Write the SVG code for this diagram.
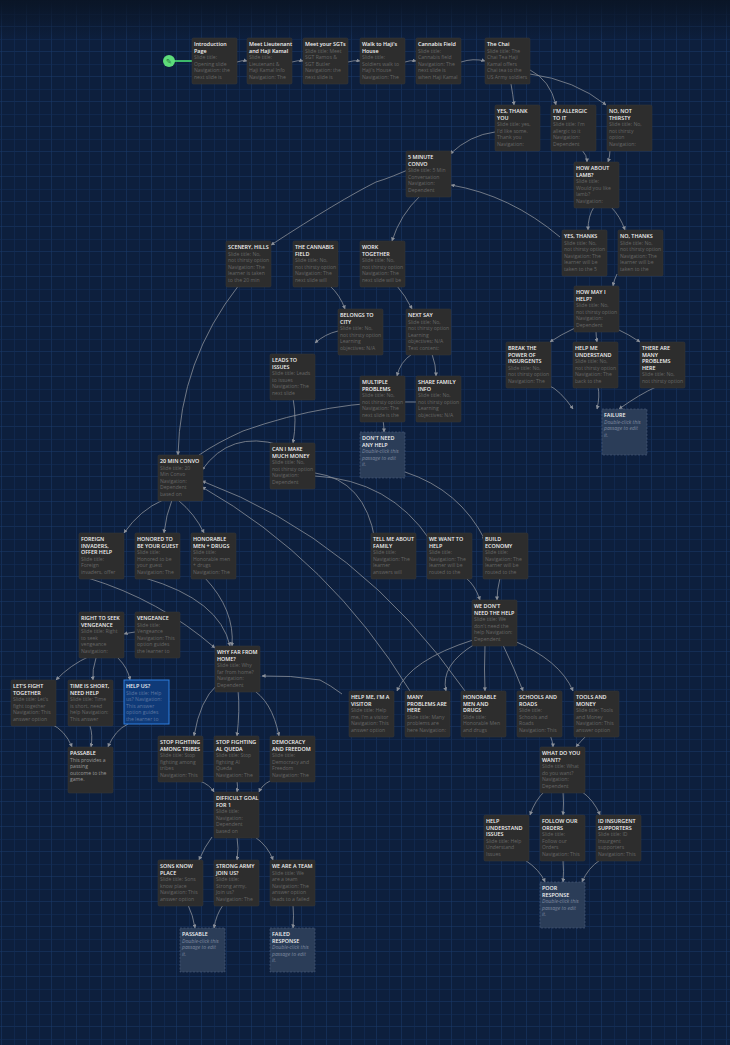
<svg xmlns="http://www.w3.org/2000/svg" width="730" height="1045" viewBox="0 0 730 1045">
<defs>
<pattern id="g" width="25" height="25" patternUnits="userSpaceOnUse" x="2" y="2">
<path d="M25 0V25H0" fill="none" stroke="#19396a" stroke-width="1"/>
<path d="M12.5 0V25M0 12.5H25" fill="none" stroke="#122c55" stroke-width="0.6"/>
</pattern>
<linearGradient id="top" x1="0" y1="0" x2="0" y2="1"><stop offset="0" stop-color="#0a1526"/><stop offset="1" stop-color="#0a1526" stop-opacity="0"/></linearGradient>
<marker id="a" viewBox="0 0 10 10" refX="9" refY="5" markerWidth="5" markerHeight="5" orient="auto"><path d="M0 0L10 5L0 10z" fill="#8a8f98"/></marker>
</defs>
<style>
.c{fill:#2d2d2d;stroke:#3a3a3a;stroke-width:0.5}
.b{fill:#2b3d58;stroke:#4a5f80;stroke-width:0.6;stroke-dasharray:2 1.5}
.s{fill:#0f3a78;stroke:#2f7fe0;stroke-width:1}
.t{font-family:"Open Sans","DejaVu Sans",sans-serif;font-size:5.4px;fill:#f2f2f2;font-weight:600}
.d{font-family:"Open Sans","DejaVu Sans",sans-serif;font-size:5.1px;fill:#666}
.i{font-family:"Open Sans","DejaVu Sans",sans-serif;font-size:5.1px;fill:#7f8aa0;font-style:italic}
#edges path{fill:none;stroke:#8a8f98;stroke-width:0.8;marker-end:url(#a)}
</style>
<rect width="730" height="1045" fill="#0d1f3d"/>
<rect width="730" height="1045" fill="url(#g)"/>
<rect width="730" height="40" fill="url(#top)"/>

<g id="edges">
<path d="M174 61H192" style="stroke:#3cb86a;stroke-width:2;marker-end:none"/>
<path d="M237 62Q242 60 247 61"/>
<path d="M292 62Q298 60 303 61"/>
<path d="M348 62Q354 60 360 61"/>
<path d="M405 62Q410 60 416 61"/>
<path d="M461 62Q473 58 485 61"/>
<path d="M511 84Q513 95 514 105"/>
<path d="M530 70Q550 80 556 105"/>
<path d="M530 74Q575 80 606 105"/>
<path d="M495 132Q470 135 450 154"/>
<path d="M582 150Q587 155 587 162"/>
<path d="M610 150Q610 156 608 162"/>
<path d="M594 207Q588 216 588 230"/>
<path d="M611 207Q620 216 625 230"/>
<path d="M560 237Q510 195 451 185"/>
<path d="M617 274Q614 280 613 286"/>
<path d="M419 165Q390 178 376 182Q340 200 271 245"/>
<path d="M420 196Q400 215 392 241"/>
<path d="M239 285Q180 360 178 455"/>
<path d="M330 286Q340 295 345 309"/>
<path d="M397 286Q405 295 412 309"/>
<path d="M338 331Q325 334 315 343"/>
<path d="M412 354Q400 362 397 376"/>
<path d="M432 354Q436 365 436 376"/>
<path d="M575 328Q560 335 550 342"/>
<path d="M596 331Q596 336 597 342"/>
<path d="M615 328Q630 335 640 342"/>
<path d="M548 385Q560 390 573 409"/>
<path d="M598 387Q600 396 597 409"/>
<path d="M656 387Q640 394 619 409"/>
<path d="M293 398Q297 420 293 443"/>
<path d="M383 420Q384 426 384 432"/>
<path d="M416 402Q330 400 243 431Q190 455 178 476"/>
<path d="M280 445Q230 430 202 470"/>
<path d="M163 500Q140 510 124 533"/>
<path d="M172 500Q166 515 164 533"/>
<path d="M178 500Q195 514 204 533"/>
<path d="M315 473Q365 480 375 540"/>
<path d="M315 476Q390 480 430 540"/>
<path d="M405 472Q460 490 485 540"/>
<path d="M466 578Q475 585 480 600"/>
<path d="M500 578Q497 590 497 600"/>
<path d="M473 640Q410 660 397 691"/>
<path d="M485 645Q484 670 485 691"/>
<path d="M503 645Q515 670 523 691"/>
<path d="M512 640Q560 660 573 691"/>
<path d="M475 644Q440 665 446 691"/>
<path d="M410 691Q330 560 202 487"/>
<path d="M465 691Q360 540 202 481"/>
<path d="M342 694Q330 685 320 680Q290 675 262 676"/>
<path d="M88 578Q160 600 215 648"/>
<path d="M145 578Q220 600 230 646"/>
<path d="M205 578Q235 610 232 646"/>
<path d="M135 632Q128 633 124 634"/>
<path d="M90 656Q70 665 56 680"/>
<path d="M96 658Q92 670 93 680"/>
<path d="M118 658Q128 668 130 680"/>
<path d="M51 724Q65 730 72 747"/>
<path d="M90 726Q93 735 91 747"/>
<path d="M128 724Q115 730 108 747"/>
<path d="M217 685Q200 700 194 736"/>
<path d="M238 690Q240 710 237 736"/>
<path d="M250 688Q272 700 279 736"/>
<path d="M200 781Q210 785 214 792"/>
<path d="M237 781Q238 786 237 792"/>
<path d="M270 781Q262 785 259 792"/>
<path d="M212 837Q205 846 199 860"/>
<path d="M237 837Q239 848 237 860"/>
<path d="M255 837Q268 846 273 860"/>
<path d="M188 905Q193 915 195 928"/>
<path d="M223 905Q216 915 214 928"/>
<path d="M293 905Q294 915 293 928"/>
<path d="M550 735Q553 742 553 747"/>
<path d="M587 735Q580 742 576 747"/>
<path d="M545 791Q535 800 530 815"/>
<path d="M563 791Q564 803 563 815"/>
<path d="M581 791Q594 800 600 815"/>
<path d="M525 860Q540 870 545 882"/>
<path d="M563 860Q564 872 563 882"/>
<path d="M600 860Q588 868 582 882"/>
</g>

<circle cx="169" cy="61" r="6" fill="#5ddc7a"/>
<text x="166" y="64" style="font-family:'DejaVu Sans',sans-serif;font-size:7px;fill:#1e6b34">✎</text>

<g id="n1"><rect class="c" x="192" y="38" width="45" height="46" rx="1.5"/><text class="t" x="194" y="46">Introduction</text><text class="t" x="194" y="52.5">Page</text><text class="d" x="194" y="59">Slide title:</text><text class="d" x="194" y="65.5">Opening slide</text><text class="d" x="194" y="72">Navigation: the</text><text class="d" x="194" y="78.5">next slide is</text></g>
<g id="n2"><rect class="c" x="247" y="38" width="45" height="46" rx="1.5"/><text class="t" x="249" y="46">Meet Lieutenant</text><text class="t" x="249" y="52.5">and Haji Kamal</text><text class="d" x="249" y="59">Slide title:</text><text class="d" x="249" y="65.5">Lieutenant &amp;</text><text class="d" x="249" y="72">Haji Kamal Info</text><text class="d" x="249" y="78.5">Navigation: The</text></g>
<g id="n3"><rect class="c" x="303" y="38" width="45" height="46" rx="1.5"/><text class="t" x="305" y="46">Meet your SGTs</text><text class="d" x="305" y="52.5">Slide title: Meet</text><text class="d" x="305" y="59">SGT Ramos &amp;</text><text class="d" x="305" y="65.5">SGT Butler</text><text class="d" x="305" y="72">Navigation: the</text><text class="d" x="305" y="78.5">next slide is</text></g>
<g id="n4"><rect class="c" x="360" y="38" width="45" height="46" rx="1.5"/><text class="t" x="362" y="46">Walk to Haji's</text><text class="t" x="362" y="52.5">House</text><text class="d" x="362" y="59">Slide title:</text><text class="d" x="362" y="65.5">Soldiers walk to</text><text class="d" x="362" y="72">Haji's House</text><text class="d" x="362" y="78.5">Navigation: The</text></g>
<g id="n5"><rect class="c" x="416" y="38" width="45" height="46" rx="1.5"/><text class="t" x="418" y="46">Cannabis Field</text><text class="d" x="418" y="52.5">Slide title:</text><text class="d" x="418" y="59">Cannabis field</text><text class="d" x="418" y="65.5">Navigation: The</text><text class="d" x="418" y="72">next slide is</text><text class="d" x="418" y="78.5">when Haji Kamal</text></g>
<g id="n6"><rect class="c" x="485" y="38" width="45" height="46" rx="1.5"/><text class="t" x="487" y="46">The Chai</text><text class="d" x="487" y="52.5">Slide title: The</text><text class="d" x="487" y="59">Chai Tea Haji</text><text class="d" x="487" y="65.5">Kamal offers</text><text class="d" x="487" y="72">Chai tea to the</text><text class="d" x="487" y="78.5">US Army soldiers</text></g>

<g id="n7"><rect class="c" x="495" y="105" width="45" height="46" rx="1.5"/><text class="t" x="497" y="113">YES, THANK</text><text class="t" x="497" y="119.5">YOU</text><text class="d" x="497" y="126">Slide title: yes,</text><text class="d" x="497" y="132.5">I'd like some.</text><text class="d" x="497" y="139">Thank you</text><text class="d" x="497" y="145.5">Navigation:</text></g>
<g id="n8"><rect class="c" x="551" y="105" width="45" height="46" rx="1.5"/><text class="t" x="553" y="113">I'M ALLERGIC</text><text class="t" x="553" y="119.5">TO IT</text><text class="d" x="553" y="126">Slide title: I'm</text><text class="d" x="553" y="132.5">allergic to it</text><text class="d" x="553" y="139">Navigation:</text><text class="d" x="553" y="145.5">Dependent</text></g>
<g id="n9"><rect class="c" x="607" y="105" width="45" height="46" rx="1.5"/><text class="t" x="609" y="113">NO, NOT</text><text class="t" x="609" y="119.5">THIRSTY</text><text class="d" x="609" y="126">Slide title: No,</text><text class="d" x="609" y="132.5">not thirsty</text><text class="d" x="609" y="139">option</text><text class="d" x="609" y="145.5">Navigation:</text></g>
<g id="n10"><rect class="c" x="406" y="151" width="45" height="46" rx="1.5"/><text class="t" x="408" y="159">5 MINUTE</text><text class="t" x="408" y="165.5">CONVO</text><text class="d" x="408" y="172">Slide title: 5 Min</text><text class="d" x="408" y="178.5">Conversation</text><text class="d" x="408" y="185">Navigation:</text><text class="d" x="408" y="191.5">Dependent</text></g>
<g id="n11"><rect class="c" x="574" y="162" width="45" height="46" rx="1.5"/><text class="t" x="576" y="170">HOW ABOUT</text><text class="t" x="576" y="176.5">LAMB?</text><text class="d" x="576" y="183">Slide title:</text><text class="d" x="576" y="189.5">Would you like</text><text class="d" x="576" y="196">lamb?</text><text class="d" x="576" y="202.5">Navigation:</text></g>

<g id="n12"><rect class="c" x="226" y="241" width="45" height="46" rx="1.5"/><text class="t" x="228" y="249">SCENERY, HILLS</text><text class="d" x="228" y="255.5">Slide title: No,</text><text class="d" x="228" y="262">not thirsty option</text><text class="d" x="228" y="268.5">Navigation: The</text><text class="d" x="228" y="275">learner is taken</text><text class="d" x="228" y="281.5">to the 20 min</text></g>
<g id="n13"><rect class="c" x="293" y="241" width="45" height="46" rx="1.5"/><text class="t" x="295" y="249">THE CANNABIS</text><text class="t" x="295" y="255.5">FIELD</text><text class="d" x="295" y="262">Slide title: No,</text><text class="d" x="295" y="268.5">not thirsty option</text><text class="d" x="295" y="275">Navigation: The</text><text class="d" x="295" y="281.5">next slide will</text></g>
<g id="n14"><rect class="c" x="360" y="241" width="45" height="46" rx="1.5"/><text class="t" x="362" y="249">WORK</text><text class="t" x="362" y="255.5">TOGETHER</text><text class="d" x="362" y="262">Slide title: No,</text><text class="d" x="362" y="268.5">not thirsty option</text><text class="d" x="362" y="275">Navigation: The</text><text class="d" x="362" y="281.5">next slide will be</text></g>
<g id="n15"><rect class="c" x="562" y="230" width="45" height="46" rx="1.5"/><text class="t" x="564" y="238">YES, THANKS</text><text class="d" x="564" y="244.5">Slide title: No,</text><text class="d" x="564" y="251">not thirsty option</text><text class="d" x="564" y="257.5">Navigation: The</text><text class="d" x="564" y="264">learner will be</text><text class="d" x="564" y="270.5">taken to the 5</text></g>
<g id="n16"><rect class="c" x="618" y="230" width="45" height="46" rx="1.5"/><text class="t" x="620" y="238">NO, THANKS</text><text class="d" x="620" y="244.5">Slide title: No,</text><text class="d" x="620" y="251">not thirsty option</text><text class="d" x="620" y="257.5">Navigation: The</text><text class="d" x="620" y="264">learner will be</text><text class="d" x="620" y="270.5">taken to the</text></g>
<g id="n17"><rect class="c" x="574" y="286" width="45" height="46" rx="1.5"/><text class="t" x="576" y="294">HOW MAY I</text><text class="t" x="576" y="300.5">HELP?</text><text class="d" x="576" y="307">Slide title: No,</text><text class="d" x="576" y="313.5">not thirsty option</text><text class="d" x="576" y="320">Navigation:</text><text class="d" x="576" y="326.5">Dependent</text></g>

<g id="n18"><rect class="c" x="338" y="309" width="45" height="46" rx="1.5"/><text class="t" x="340" y="317">BELONGS TO</text><text class="t" x="340" y="323.5">CITY</text><text class="d" x="340" y="330">Slide title: No,</text><text class="d" x="340" y="336.5">not thirsty option</text><text class="d" x="340" y="343">Learning</text><text class="d" x="340" y="349.5">objectives: N/A</text></g>
<g id="n19"><rect class="c" x="406" y="309" width="45" height="46" rx="1.5"/><text class="t" x="408" y="317">NEXT SAY</text><text class="d" x="408" y="323.5">Slide title: No,</text><text class="d" x="408" y="330">not thirsty option</text><text class="d" x="408" y="336.5">Learning</text><text class="d" x="408" y="343">objectives: N/A</text><text class="d" x="408" y="349.5">Text content:</text></g>
<g id="n20"><rect class="c" x="506" y="342" width="45" height="46" rx="1.5"/><text class="t" x="508" y="350">BREAK THE</text><text class="t" x="508" y="356.5">POWER OF</text><text class="t" x="508" y="363">INSURGENTS</text><text class="d" x="508" y="369.5">Slide title: No,</text><text class="d" x="508" y="376">not thirsty option</text><text class="d" x="508" y="382.5">Navigation: The</text></g>
<g id="n21"><rect class="c" x="573" y="342" width="45" height="46" rx="1.5"/><text class="t" x="575" y="350">HELP ME</text><text class="t" x="575" y="356.5">UNDERSTAND</text><text class="d" x="575" y="363">Slide title: No,</text><text class="d" x="575" y="369.5">not thirsty option</text><text class="d" x="575" y="376">Navigation: The</text><text class="d" x="575" y="382.5">back to the</text></g>
<g id="n22"><rect class="c" x="640" y="342" width="45" height="46" rx="1.5"/><text class="t" x="642" y="350">THERE ARE</text><text class="t" x="642" y="356.5">MANY</text><text class="t" x="642" y="363">PROBLEMS</text><text class="t" x="642" y="369.5">HERE</text><text class="d" x="642" y="376">Slide title: No,</text><text class="d" x="642" y="382.5">not thirsty option</text></g>
<g id="n23"><rect class="c" x="270" y="354" width="45" height="46" rx="1.5"/><text class="t" x="272" y="362">LEADS TO</text><text class="t" x="272" y="368.5">ISSUES</text><text class="d" x="272" y="375">Slide title: Leads</text><text class="d" x="272" y="381.5">to issues</text><text class="d" x="272" y="388">Navigation: The</text><text class="d" x="272" y="394.5">next slide</text></g>
<g id="n24"><rect class="c" x="360" y="376" width="45" height="46" rx="1.5"/><text class="t" x="362" y="384">MULTIPLE</text><text class="t" x="362" y="390.5">PROBLEMS</text><text class="d" x="362" y="397">Slide title: No,</text><text class="d" x="362" y="403.5">not thirsty option</text><text class="d" x="362" y="410">Navigation: The</text><text class="d" x="362" y="416.5">next slide is the</text></g>
<g id="n25"><rect class="c" x="416" y="376" width="45" height="46" rx="1.5"/><text class="t" x="418" y="384">SHARE FAMILY</text><text class="t" x="418" y="390.5">INFO</text><text class="d" x="418" y="397">Slide title: No,</text><text class="d" x="418" y="403.5">not thirsty option</text><text class="d" x="418" y="410">Learning</text><text class="d" x="418" y="416.5">objectives: N/A</text></g>
<g id="n26"><rect class="b" x="602" y="409" width="45" height="46"/><text class="t" x="604" y="417">FAILURE</text><text class="i" x="604" y="423.5">Double-click this</text><text class="i" x="604" y="430">passage to edit</text><text class="i" x="604" y="436.5">it.</text></g>
<g id="n27"><rect class="b" x="360" y="432" width="45" height="46"/><text class="t" x="362" y="440">DON'T NEED</text><text class="t" x="362" y="446.5">ANY HELP</text><text class="i" x="362" y="453">Double-click this</text><text class="i" x="362" y="459.5">passage to edit</text><text class="i" x="362" y="466">it.</text></g>
<g id="n28"><rect class="c" x="270" y="443" width="45" height="46" rx="1.5"/><text class="t" x="272" y="451">CAN I MAKE</text><text class="t" x="272" y="457.5">MUCH MONEY</text><text class="d" x="272" y="464">Slide title: No,</text><text class="d" x="272" y="470.5">not thirsty option</text><text class="d" x="272" y="477">Navigation:</text><text class="d" x="272" y="483.5">Dependent</text></g>
<g id="n29"><rect class="c" x="158" y="455" width="45" height="46" rx="1.5"/><text class="t" x="160" y="463">20 MIN CONVO</text><text class="d" x="160" y="469.5">Slide title: 20</text><text class="d" x="160" y="476">Min Convo</text><text class="d" x="160" y="482.5">Navigation:</text><text class="d" x="160" y="489">Dependent</text><text class="d" x="160" y="495.5">based on</text></g>

<g id="n30"><rect class="c" x="79" y="533" width="45" height="46" rx="1.5"/><text class="t" x="81" y="541">FOREIGN</text><text class="t" x="81" y="547.5">INVADERS,</text><text class="t" x="81" y="554">OFFER HELP</text><text class="d" x="81" y="560.5">Slide title:</text><text class="d" x="81" y="567">Foreign</text><text class="d" x="81" y="573.5">invaders, offer</text></g>
<g id="n31"><rect class="c" x="135" y="533" width="45" height="46" rx="1.5"/><text class="t" x="137" y="541">HONORED TO</text><text class="t" x="137" y="547.5">BE YOUR GUEST</text><text class="d" x="137" y="554">Slide title:</text><text class="d" x="137" y="560.5">Honored to be</text><text class="d" x="137" y="567">your guest</text><text class="d" x="137" y="573.5">Navigation: The</text></g>
<g id="n32"><rect class="c" x="191" y="533" width="45" height="46" rx="1.5"/><text class="t" x="193" y="541">HONORABLE</text><text class="t" x="193" y="547.5">MEN + DRUGS</text><text class="d" x="193" y="554">Slide title:</text><text class="d" x="193" y="560.5">Honorable men</text><text class="d" x="193" y="567">+ drugs</text><text class="d" x="193" y="573.5">Navigation: The</text></g>
<g id="n33"><rect class="c" x="371" y="533" width="45" height="46" rx="1.5"/><text class="t" x="373" y="541">TELL ME ABOUT</text><text class="t" x="373" y="547.5">FAMILY</text><text class="d" x="373" y="554">Slide title:</text><text class="d" x="373" y="560.5">Navigation: The</text><text class="d" x="373" y="567">learner</text><text class="d" x="373" y="573.5">answers will</text></g>
<g id="n34"><rect class="c" x="427" y="533" width="45" height="46" rx="1.5"/><text class="t" x="429" y="541">WE WANT TO</text><text class="t" x="429" y="547.5">HELP</text><text class="d" x="429" y="554">Slide title:</text><text class="d" x="429" y="560.5">Navigation: The</text><text class="d" x="429" y="567">learner will be</text><text class="d" x="429" y="573.5">routed to the</text></g>
<g id="n35"><rect class="c" x="483" y="533" width="45" height="46" rx="1.5"/><text class="t" x="485" y="541">BUILD</text><text class="t" x="485" y="547.5">ECONOMY</text><text class="d" x="485" y="554">Slide title:</text><text class="d" x="485" y="560.5">Navigation: The</text><text class="d" x="485" y="567">learner will be</text><text class="d" x="485" y="573.5">routed to the</text></g>
<g id="n36"><rect class="c" x="472" y="600" width="45" height="46" rx="1.5"/><text class="t" x="474" y="608">WE DON'T</text><text class="t" x="474" y="614.5">NEED THE HELP</text><text class="d" x="474" y="621">Slide title: We</text><text class="d" x="474" y="627.5">don't need the</text><text class="d" x="474" y="634">help Navigation:</text><text class="d" x="474" y="640.5">Dependent</text></g>
<g id="n37"><rect class="c" x="79" y="612" width="45" height="46" rx="1.5"/><text class="t" x="81" y="620">RIGHT TO SEEK</text><text class="t" x="81" y="626.5">VENGEANCE</text><text class="d" x="81" y="633">Slide title: Right</text><text class="d" x="81" y="639.5">to seek</text><text class="d" x="81" y="646">vengeance</text><text class="d" x="81" y="652.5">Navigation:</text></g>
<g id="n38"><rect class="c" x="135" y="612" width="45" height="46" rx="1.5"/><text class="t" x="137" y="620">VENGEANCE</text><text class="d" x="137" y="626.5">Slide title:</text><text class="d" x="137" y="633">Vengeance</text><text class="d" x="137" y="639.5">Navigation: This</text><text class="d" x="137" y="646">option guides</text><text class="d" x="137" y="652.5">the learner to</text></g>
<g id="n39"><rect class="c" x="215" y="646" width="45" height="46" rx="1.5"/><text class="t" x="217" y="654">WHY FAR FROM</text><text class="t" x="217" y="660.5">HOME?</text><text class="d" x="217" y="667">Slide title: Why</text><text class="d" x="217" y="673.5">far from home?</text><text class="d" x="217" y="680">Navigation:</text><text class="d" x="217" y="686.5">Dependent</text></g>

<g id="n40"><rect class="c" x="11" y="680" width="45" height="46" rx="1.5"/><text class="t" x="13" y="688">LET'S FIGHT</text><text class="t" x="13" y="694.5">TOGETHER</text><text class="d" x="13" y="701">Slide title: Let's</text><text class="d" x="13" y="707.5">fight together</text><text class="d" x="13" y="714">Navigation: This</text><text class="d" x="13" y="720.5">answer option</text></g>
<g id="n41"><rect class="c" x="68" y="680" width="45" height="46" rx="1.5"/><text class="t" x="70" y="688">TIME IS SHORT,</text><text class="t" x="70" y="694.5">NEED HELP</text><text class="d" x="70" y="701">Slide title: Time</text><text class="d" x="70" y="707.5">is short, need</text><text class="d" x="70" y="714">help Navigation:</text><text class="d" x="70" y="720.5">This answer</text></g>
<g id="n42"><rect class="s" x="124" y="680" width="45" height="44"/><text class="t" x="126" y="688">HELP US?</text><text class="d" x="126" y="694.5" style="fill:#5d76a0">Slide title: Help</text><text class="d" x="126" y="701" style="fill:#5d76a0">us? Navigation:</text><text class="d" x="126" y="707.5" style="fill:#5d76a0">This answer</text><text class="d" x="126" y="714" style="fill:#5d76a0">option guides</text><text class="d" x="126" y="720.5" style="fill:#5d76a0">the learner to</text></g>
<g id="n43"><rect class="c" x="349" y="691" width="45" height="46" rx="1.5"/><text class="t" x="351" y="699">HELP ME, I'M A</text><text class="t" x="351" y="705.5">VISITOR</text><text class="d" x="351" y="712">Slide title: Help</text><text class="d" x="351" y="718.5">me, I'm a visitor</text><text class="d" x="351" y="725">Navigation: This</text><text class="d" x="351" y="731.5">answer option</text></g>
<g id="n44"><rect class="c" x="405" y="691" width="45" height="46" rx="1.5"/><text class="t" x="407" y="699">MANY</text><text class="t" x="407" y="705.5">PROBLEMS ARE</text><text class="t" x="407" y="712">HERE</text><text class="d" x="407" y="718.5">Slide title: Many</text><text class="d" x="407" y="725">problems are</text><text class="d" x="407" y="731.5">here Navigation:</text></g>
<g id="n45"><rect class="c" x="461" y="691" width="45" height="46" rx="1.5"/><text class="t" x="463" y="699">HONORABLE</text><text class="t" x="463" y="705.5">MEN AND</text><text class="t" x="463" y="712">DRUGS</text><text class="d" x="463" y="718.5">Slide title:</text><text class="d" x="463" y="725">Honorable Men</text><text class="d" x="463" y="731.5">and drugs</text></g>
<g id="n46"><rect class="c" x="517" y="691" width="45" height="46" rx="1.5"/><text class="t" x="519" y="699">SCHOOLS AND</text><text class="t" x="519" y="705.5">ROADS</text><text class="d" x="519" y="712">Slide title:</text><text class="d" x="519" y="718.5">Schools and</text><text class="d" x="519" y="725">Roads</text><text class="d" x="519" y="731.5">Navigation: This</text></g>
<g id="n47"><rect class="c" x="574" y="691" width="45" height="46" rx="1.5"/><text class="t" x="576" y="699">TOOLS AND</text><text class="t" x="576" y="705.5">MONEY</text><text class="d" x="576" y="712">Slide title: Tools</text><text class="d" x="576" y="718.5">and Money</text><text class="d" x="576" y="725">Navigation: This</text><text class="d" x="576" y="731.5">answer option</text></g>
<g id="n48"><rect class="c" x="68" y="747" width="45" height="46" rx="1.5"/><text class="t" x="70" y="755">PASSABLE</text><text class="d" x="70" y="761.5" style="fill:#999">This provides a</text><text class="d" x="70" y="768" style="fill:#999">passing</text><text class="d" x="70" y="774.5" style="fill:#999">outcome to the</text><text class="d" x="70" y="781" style="fill:#999">game.</text></g>
<g id="n49"><rect class="c" x="158" y="736" width="45" height="46" rx="1.5"/><text class="t" x="160" y="744">STOP FIGHTING</text><text class="t" x="160" y="750.5">AMONG TRIBES</text><text class="d" x="160" y="757">Slide title: Stop</text><text class="d" x="160" y="763.5">fighting among</text><text class="d" x="160" y="770">tribes</text><text class="d" x="160" y="776.5">Navigation: This</text></g>
<g id="n50"><rect class="c" x="214" y="736" width="45" height="46" rx="1.5"/><text class="t" x="216" y="744">STOP FIGHTING</text><text class="t" x="216" y="750.5">AL QUEDA</text><text class="d" x="216" y="757">Slide title: Stop</text><text class="d" x="216" y="763.5">fighting Al</text><text class="d" x="216" y="770">Queda</text><text class="d" x="216" y="776.5">Navigation: The</text></g>
<g id="n51"><rect class="c" x="270" y="736" width="45" height="46" rx="1.5"/><text class="t" x="272" y="744">DEMOCRACY</text><text class="t" x="272" y="750.5">AND FREEDOM</text><text class="d" x="272" y="757">Slide title:</text><text class="d" x="272" y="763.5">Democracy and</text><text class="d" x="272" y="770">Freedom</text><text class="d" x="272" y="776.5">Navigation: The</text></g>
<g id="n52"><rect class="c" x="540" y="747" width="45" height="46" rx="1.5"/><text class="t" x="542" y="755">WHAT DO YOU</text><text class="t" x="542" y="761.5">WANT?</text><text class="d" x="542" y="768">Slide title: What</text><text class="d" x="542" y="774.5">do you want?</text><text class="d" x="542" y="781">Navigation:</text><text class="d" x="542" y="787.5">Dependent</text></g>
<g id="n53"><rect class="c" x="214" y="792" width="45" height="46" rx="1.5"/><text class="t" x="216" y="800">DIFFICULT GOAL</text><text class="t" x="216" y="806.5">FOR 1</text><text class="d" x="216" y="813">Slide title:</text><text class="d" x="216" y="819.5">Navigation:</text><text class="d" x="216" y="826">Dependent</text><text class="d" x="216" y="832.5">based on</text></g>
<g id="n54"><rect class="c" x="484" y="815" width="45" height="46" rx="1.5"/><text class="t" x="486" y="823">HELP</text><text class="t" x="486" y="829.5">UNDERSTAND</text><text class="t" x="486" y="836">ISSUES</text><text class="d" x="486" y="842.5">Slide title: Help</text><text class="d" x="486" y="849">Understand</text><text class="d" x="486" y="855.5">Issues</text></g>
<g id="n55"><rect class="c" x="540" y="815" width="45" height="46" rx="1.5"/><text class="t" x="542" y="823">FOLLOW OUR</text><text class="t" x="542" y="829.5">ORDERS</text><text class="d" x="542" y="836">Slide title:</text><text class="d" x="542" y="842.5">Follow our</text><text class="d" x="542" y="849">Orders</text><text class="d" x="542" y="855.5">Navigation: This</text></g>
<g id="n56"><rect class="c" x="596" y="815" width="45" height="46" rx="1.5"/><text class="t" x="598" y="823">ID INSURGENT</text><text class="t" x="598" y="829.5">SUPPORTERS</text><text class="d" x="598" y="836">Slide title: ID</text><text class="d" x="598" y="842.5">Insurgent</text><text class="d" x="598" y="849">supporters</text><text class="d" x="598" y="855.5">Navigation: This</text></g>
<g id="n57"><rect class="c" x="158" y="860" width="45" height="46" rx="1.5"/><text class="t" x="160" y="868">SONS KNOW</text><text class="t" x="160" y="874.5">PLACE</text><text class="d" x="160" y="881">Slide title: Sons</text><text class="d" x="160" y="887.5">know place</text><text class="d" x="160" y="894">Navigation: This</text><text class="d" x="160" y="900.5">answer option</text></g>
<g id="n58"><rect class="c" x="214" y="860" width="45" height="46" rx="1.5"/><text class="t" x="216" y="868">STRONG ARMY</text><text class="t" x="216" y="874.5">JOIN US?</text><text class="d" x="216" y="881">Slide title:</text><text class="d" x="216" y="887.5">Strong army,</text><text class="d" x="216" y="894">Join us?</text><text class="d" x="216" y="900.5">Navigation: The</text></g>
<g id="n59"><rect class="c" x="270" y="860" width="45" height="46" rx="1.5"/><text class="t" x="272" y="868">WE ARE A TEAM</text><text class="d" x="272" y="874.5">Slide title: We</text><text class="d" x="272" y="881">are a team</text><text class="d" x="272" y="887.5">Navigation: The</text><text class="d" x="272" y="894">answer option</text><text class="d" x="272" y="900.5">leads to a failed</text></g>
<g id="n60"><rect class="b" x="540" y="882" width="45" height="46"/><text class="t" x="542" y="890">POOR</text><text class="t" x="542" y="896.5">RESPONSE</text><text class="i" x="542" y="903">Double-click this</text><text class="i" x="542" y="909.5">passage to edit</text><text class="i" x="542" y="916">it.</text></g>
<g id="n61"><rect class="b" x="180" y="928" width="45" height="44"/><text class="t" x="182" y="936">PASSABLE</text><text class="i" x="182" y="942.5">Double-click this</text><text class="i" x="182" y="949">passage to edit</text><text class="i" x="182" y="955.5">it.</text></g>
<g id="n62"><rect class="b" x="270" y="928" width="45" height="44"/><text class="t" x="272" y="936">FAILED</text><text class="t" x="272" y="942.5">RESPONSE</text><text class="i" x="272" y="949">Double-click this</text><text class="i" x="272" y="955.5">passage to edit</text><text class="i" x="272" y="962">it.</text></g>
</svg>
